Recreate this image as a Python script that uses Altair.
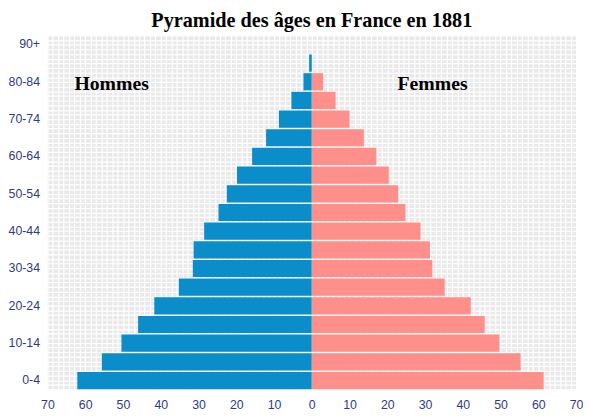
import altair as alt
import pandas as pd

# ---- data ----
AGES = ["0-4", "5-9", "10-14", "15-19", "20-24", "25-29", "30-34", "35-39",
        "40-44", "45-49", "50-54", "55-59", "60-64", "65-69", "70-74",
        "75-79", "80-84", "85-89", "90+"]
HOMMES = [62.1, 55.6, 50.4, 46.0, 41.7, 35.2, 31.5, 31.3, 28.5, 24.7,
          22.5, 19.8, 15.8, 12.1, 8.7, 5.4, 2.2, 0.7, 0.0]
FEMMES = [61.4, 55.3, 49.7, 45.8, 42.1, 35.2, 31.9, 31.3, 28.8, 24.8,
          22.9, 20.4, 17.1, 13.8, 10.0, 6.3, 3.0, 0.0, 0.0]
Y_LABELS = ["90+", "80-84", "70-74", "60-64", "50-54", "40-44",
            "30-34", "20-24", "10-14", "0-4"]
TITLE = "Pyramide des âges en France en 1881"
SIDE_LABELS = ["Hommes", "Femmes"]

BLUE = "#0b8dca"
PINK = "#fe8f8a"
NAVY = "#2d3a8c"
BG = "#e9e9e9"

df = pd.DataFrame({"age": AGES, "hommes": HOMMES, "femmes": FEMMES})

order = AGES[::-1]
x_grid_values = [k * 10 / 7 for k in range(-49, 50)]
x_scale = alt.Scale(domain=[-70, 70], nice=False, zero=False)
y_scale = alt.Scale(domain=order, paddingInner=0.08, paddingOuter=0.02)

x_axis = alt.Axis(values=x_grid_values,
                  labelExpr="abs(datum.value) % 10 < 0.001 ? abs(round(datum.value)) : ''",
                  grid=True, ticks=False, domain=False, title=None,
                  labelOverlap=False, labelFlush=False, labelPadding=9,
                  labelFont="Liberation Sans", labelFontSize=12.5,
                  labelColor=NAVY)
y_axis = alt.Axis(values=Y_LABELS, grid=False, ticks=False, domain=False,
                  title=None, labelPadding=8, labelFont="Liberation Sans",
                  labelFontSize=12.5, labelColor=NAVY)

men = alt.Chart(df).transform_calculate(neg="-datum.hommes").mark_bar(
    color=BLUE).encode(
    x=alt.X("neg:Q", scale=x_scale, axis=x_axis),
    y=alt.Y("age:N", scale=y_scale, axis=y_axis),
)

women = alt.Chart(df).mark_bar(color=PINK).encode(
    x=alt.X("femmes:Q", scale=x_scale, axis=x_axis),
    y=alt.Y("age:N", scale=y_scale, axis=y_axis),
)

def side_text(label, xval):
    return alt.Chart(pd.DataFrame({"t": [label]})).mark_text(
        font="Liberation Serif", fontSize=20, fontWeight="bold",
        color="black", dy=2).encode(
        x=alt.X(datum=xval, type="quantitative", scale=x_scale, axis=x_axis),
        y=alt.Y(datum="80-84", type="nominal", scale=y_scale, axis=y_axis),
        text="t:N",
    )

hommes_txt = side_text(SIDE_LABELS[0], -53)
femmes_txt = side_text(SIDE_LABELS[1], 32)

grid_rows = alt.Chart(pd.DataFrame({"d": [0]})).mark_point(opacity=0).encode(
    y=alt.Y(datum=0, type="quantitative",
            scale=alt.Scale(domain=[0, 76], nice=False, zero=False),
            axis=alt.Axis(orient="right", values=list(range(77)), grid=True,
                          labels=False, ticks=False, domain=False,
                          title=None)),
)

inner = alt.layer(men, women, hommes_txt, femmes_txt)

chart = alt.layer(inner, grid_rows).resolve_scale(y="independent").properties(
    width=536,
    height=359,
    padding={"left": 0, "top": 0, "right": 0, "bottom": 0},
    title=alt.TitleParams(TITLE, font="Liberation Serif", fontSize=20.5,
                          fontWeight="bold", color="black", anchor="middle",
                          frame="group", offset=4),
).configure_view(fill=BG, stroke=None).configure_axis(
    gridColor="white", gridWidth=1.2, gridOpacity=1
).configure_axisX(labelOverlap=False)

chart.save("out.html", embed_options={"renderer": "svg", "actions": False})
